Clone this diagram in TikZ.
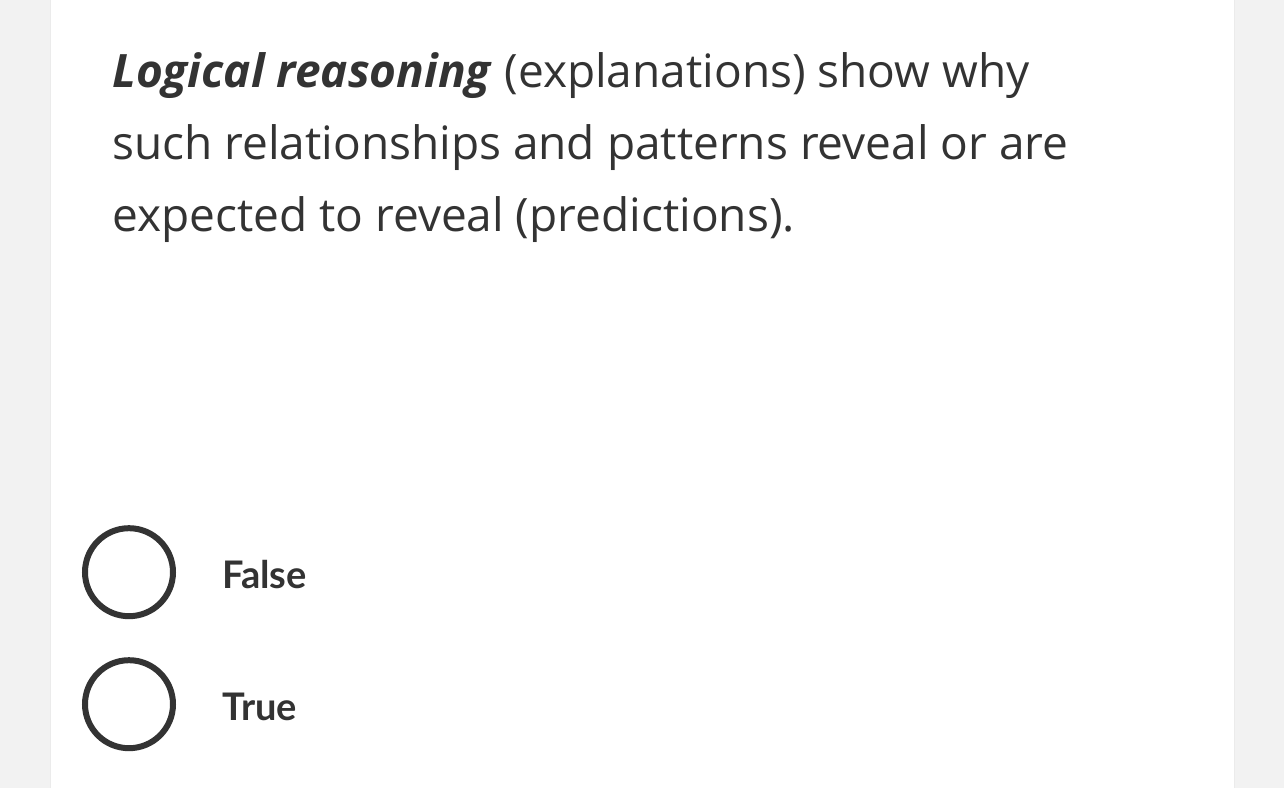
\documentclass[tikz,border=0pt]{standalone}
\usepackage{fontspec}
\setmainfont{Open Sans}
\newfontfamily\latof{Lato}
\definecolor{bg}{HTML}{F2F2F2}
\definecolor{ink}{HTML}{333333}
\begin{document}
\begin{tikzpicture}[x=1pt,y=-1pt,
  line/.style={anchor=base west,inner sep=0pt,text=ink,font=\fontsize{46}{72}\selectfont},
  opt/.style={anchor=base west,inner sep=0pt,text=ink,font=\latof\bfseries\fontsize{38}{40}\selectfont},
  radio/.style={draw=ink,line width=6pt,circle,minimum size=88pt,inner sep=0pt}]
\fill[bg] (0,0) rectangle (1284,788);
\fill[white] (50,0) rectangle (1234,788);
\draw[black!8] (50,0) -- (50,788) (1234,0) -- (1234,788);
\node[line] (l1) at (112,87) {\textbf{\textit{Logical reasoning}} (explanations) show why};
\node[line] (l2) at (112,159) {such relationships and patterns reveal or are};
\node[line] (l3) at (112,231) {expected to reveal (predictions).};
\node[radio] (r1) at (129,572) {};
\node[radio] (r2) at (129,704) {};
\node[opt] (f) at (222,588) {False};
\node[opt] (t) at (222,720) {True};
\end{tikzpicture}
\end{document}
